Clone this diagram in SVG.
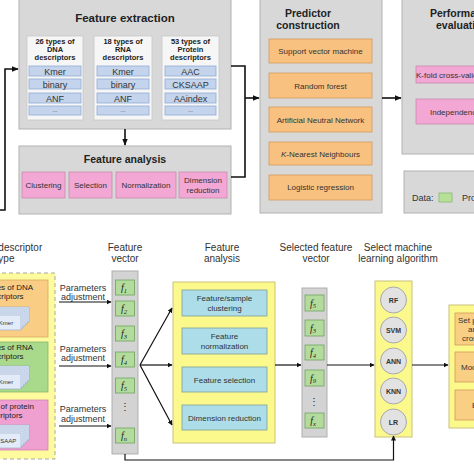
<svg xmlns="http://www.w3.org/2000/svg" width="474" height="474" viewBox="0 0 474 474">
<defs>
<marker id="ah" viewBox="0 0 10 10" refX="9" refY="5" markerWidth="5" markerHeight="5" orient="auto" markerUnits="userSpaceOnUse">
<path d="M0,0 L10,5 L0,10 z" fill="#111"/>
</marker>
<marker id="ahs" viewBox="0 0 10 10" refX="9" refY="5" markerWidth="7" markerHeight="7" orient="auto" markerUnits="userSpaceOnUse">
<path d="M0,1 L10,5 L0,9 z" fill="#111"/>
</marker>
</defs>
<style>
text{font-family:"Liberation Sans",Arial,sans-serif;fill:#333}
.gbox{fill:#d8d8d8;stroke:#b2b2b2;stroke-width:1}
.col{fill:#f6f6f6;stroke:#c8c8c8;stroke-width:0.8}
.blue{fill:#c4d4ec;stroke:#92acd4;stroke-width:0.8}
.pink{fill:#f2a7d4;stroke:#c98bb0;stroke-width:0.8}
.orange{fill:#f9c17f;stroke:#d39b5a;stroke-width:0.8}
.green{fill:#b5e096;stroke:#8cba72;stroke-width:0.8}
.title{font-size:11.5px;font-weight:bold;text-anchor:middle;fill:#222}
.hdr{font-size:7.5px;font-weight:bold;text-anchor:middle;fill:#222}
.it{font-size:9px;text-anchor:middle}
.sm{font-size:8px;text-anchor:middle}
.lbl{font-size:10px;text-anchor:middle;fill:#333}
.plbl{font-size:8px;text-anchor:middle;fill:#222}
.yel{fill:#fbf98c;stroke:#c9c27a;stroke-width:1}
.cyan{fill:#acdde9;stroke:#8aa79a;stroke-width:0.9}
.fcol{fill:#d3d3d3;stroke:#a8a8a8;stroke-width:0.9}
.fbox{fill:#b3dc9c;stroke:#6fa35f;stroke-width:0.8}
.fl{font-family:"Liberation Serif","Times New Roman",serif;font-style:italic;font-size:10px;text-anchor:middle;fill:#222}
.circ{fill:#e2e2e2;stroke:#a8a8a8;stroke-width:1}
.cl{font-size:7px;font-weight:bold;text-anchor:middle;fill:#333}
.card{fill:#e3ebf8;stroke:#8fa6c8;stroke-width:0.6}
.conn{stroke:#111;stroke-width:1.6;fill:none}
.connb{stroke:#111;stroke-width:1.2;fill:none}
</style>

<!-- TOP SECTION -->
<g id="feature-extraction">
<rect class="gbox" x="19" y="-2" width="212" height="131"/>
<text class="title" x="125" y="22">Feature extraction</text>
<g id="dna-col">
<rect class="col" x="27" y="36" width="56" height="84"/>
<text class="hdr" x="55" y="44">26 types of</text>
<text class="hdr" x="55" y="52">DNA</text>
<text class="hdr" x="55" y="60">descriptors</text>
<rect class="blue" x="29" y="66" width="52" height="10"/><text class="it" x="55" y="74.5">Kmer</text>
<rect class="blue" x="29" y="79" width="52" height="10"/><text class="it" x="55" y="87.5">binary</text>
<rect class="blue" x="29" y="93" width="52" height="10"/><text class="it" x="55" y="101.5">ANF</text>
<rect class="blue" x="29" y="106" width="52" height="9"/><text class="it" x="55" y="112" style="font-size:6px">...</text>
</g>
<g id="rna-col">
<rect class="col" x="94" y="36" width="58" height="84"/>
<text class="hdr" x="123" y="44">18 types of</text>
<text class="hdr" x="123" y="52">RNA</text>
<text class="hdr" x="123" y="60">descriptors</text>
<rect class="blue" x="97" y="66" width="52" height="10"/><text class="it" x="123" y="74.5">Kmer</text>
<rect class="blue" x="97" y="79" width="52" height="10"/><text class="it" x="123" y="87.5">binary</text>
<rect class="blue" x="97" y="93" width="52" height="10"/><text class="it" x="123" y="101.5">ANF</text>
<rect class="blue" x="97" y="106" width="52" height="9"/><text class="it" x="123" y="112" style="font-size:6px">...</text>
</g>
<g id="protein-col">
<rect class="col" x="162" y="36" width="57" height="84"/>
<text class="hdr" x="190.5" y="44">53 types of</text>
<text class="hdr" x="190.5" y="52">Protein</text>
<text class="hdr" x="190.5" y="60">descriptors</text>
<rect class="blue" x="165" y="66" width="51" height="10"/><text class="it" x="190.5" y="74.5">AAC</text>
<rect class="blue" x="165" y="79" width="51" height="10"/><text class="it" x="190.5" y="87.5">CKSAAP</text>
<rect class="blue" x="165" y="93" width="51" height="10"/><text class="it" x="190.5" y="101.5">AAindex</text>
<rect class="blue" x="165" y="106" width="51" height="9"/><text class="it" x="190.5" y="112" style="font-size:6px">...</text>
</g>
</g>

<g id="feature-analysis-top">
<rect class="gbox" x="19" y="146" width="212" height="68"/>
<text class="title" x="125" y="163" style="font-size:10.5px">Feature analysis</text>
<rect class="pink" x="22" y="172" width="43" height="26"/><text class="sm" x="43.5" y="188">Clustering</text>
<rect class="pink" x="69" y="172" width="43" height="26"/><text class="sm" x="90.5" y="188">Selection</text>
<rect class="pink" x="116" y="172" width="60" height="26"/><text class="sm" x="146" y="188">Normalization</text>
<rect class="pink" x="179" y="172" width="48" height="26"/><text class="sm" x="203" y="183">Dimension</text><text class="sm" x="203" y="193">reduction</text>
</g>

<g id="predictor-construction">
<rect class="gbox" x="260" y="-2" width="122" height="215"/>
<text class="title" x="308" y="17" style="font-size:10.5px">Predictor</text>
<text class="title" x="308" y="29" style="font-size:10.5px">construction</text>
<rect class="orange" x="269" y="39" width="103" height="24"/><text class="sm" x="320.5" y="54">Support vector machine</text>
<rect class="orange" x="269" y="73" width="103" height="25"/><text class="sm" x="320.5" y="88.5">Random forest</text>
<rect class="orange" x="269" y="107" width="103" height="25"/><text class="sm" x="320.5" y="122.5">Artificial Neutral Network</text>
<rect class="orange" x="269" y="142" width="103" height="23"/><text class="sm" x="320.5" y="156.5"><tspan font-style="italic">K</tspan>-Nearest Neighbours</text>
<rect class="orange" x="269" y="175" width="103" height="25"/><text class="sm" x="320.5" y="190">Logistic regression</text>
</g>

<g id="performance-evaluation">
<rect class="gbox" x="402" y="-2" width="90" height="156"/>
<text class="title" x="462" y="17" style="font-size:10.5px">Performance</text>
<text class="title" x="462" y="29" style="font-size:10.5px">evaluation</text>
<rect class="pink" x="416" y="66" width="80" height="17"/><text class="sm" x="416" y="77.5" style="text-anchor:start">K-fold cross-validation</text>
<rect class="pink" x="416" y="99" width="80" height="25"/><text class="sm" x="430" y="114.5" style="text-anchor:start">Independence test</text>
</g>

<g id="legend">
<rect class="gbox" x="404" y="171" width="90" height="42"/>
<text x="412" y="201" style="font-size:9px">Data:</text>
<rect class="green" x="439" y="193" width="13" height="9"/>
<text x="462" y="201" style="font-size:9px">Process:</text>
</g>

<!-- BOTTOM SECTION -->
<g id="descriptor-type">
<text class="lbl" x="5" y="251">Select descriptor</text>
<text class="lbl" x="5" y="262">type</text>
<rect x="-5" y="273" width="60" height="186" fill="#fdfb9e" stroke="#a8a8a8" stroke-width="1" stroke-dasharray="4,3"/>
<g id="dna-type">
<rect x="-5" y="280" width="53" height="57" fill="#f9cd84" stroke="#d6aa63" stroke-width="0.8"/>
<text class="plbl" x="4" y="290">26 types of DNA</text>
<text class="plbl" x="4" y="299">descriptors</text>
<rect class="card" x="-1" y="307" width="30" height="15"/>
<rect class="card" x="-3" y="309" width="30" height="15"/>
<rect class="card" x="-5" y="311" width="30" height="15"/>
<rect class="card" x="-7" y="313" width="30" height="15"/>
<rect class="card" x="-9" y="315" width="30" height="15"/>
<text x="6" y="325" style="font-size:6px;text-anchor:middle">Kmer</text>
</g>
<g id="rna-type">
<rect x="-5" y="342" width="53" height="50" fill="#a9d98b" stroke="#86b86c" stroke-width="0.8"/>
<text class="plbl" x="4" y="350">18 types of RNA</text>
<text class="plbl" x="4" y="359">descriptors</text>
<rect class="card" x="-1" y="366" width="30" height="15"/>
<rect class="card" x="-3" y="368" width="30" height="15"/>
<rect class="card" x="-5" y="370" width="30" height="15"/>
<rect class="card" x="-7" y="372" width="30" height="15"/>
<rect class="card" x="-9" y="374" width="30" height="15"/>
<text x="6" y="384" style="font-size:6px;text-anchor:middle">Kmer</text>
</g>
<g id="protein-type">
<rect x="-5" y="400" width="53" height="50" fill="#f0a0d0" stroke="#cc86b0" stroke-width="0.8"/>
<text class="plbl" x="1" y="409">53 types of protein</text>
<text class="plbl" x="3" y="418">descriptors</text>
<rect class="card" x="-1" y="425" width="30" height="15"/>
<rect class="card" x="-3" y="427" width="30" height="15"/>
<rect class="card" x="-5" y="429" width="30" height="15"/>
<rect class="card" x="-7" y="431" width="30" height="15"/>
<rect class="card" x="-9" y="433" width="30" height="15"/>
<text x="4" y="443" style="font-size:6px;text-anchor:middle">CKSAAP</text>
</g>
</g>

<g id="param-labels">
<text class="lbl" x="83" y="291" style="font-size:9px">Parameters</text>
<text class="lbl" x="83" y="300" style="font-size:9px">adjustment</text>
<text class="lbl" x="83" y="352" style="font-size:9px">Parameters</text>
<text class="lbl" x="83" y="361" style="font-size:9px">adjustment</text>
<text class="lbl" x="83" y="412" style="font-size:9px">Parameters</text>
<text class="lbl" x="83" y="422" style="font-size:9px">adjustment</text>
</g>

<g id="feature-vector">
<text class="lbl" x="125" y="251">Feature</text>
<text class="lbl" x="125" y="262">vector</text>
<rect class="fcol" x="112" y="271" width="26" height="183"/>
<rect class="fbox" x="115.5" y="280" width="19" height="15"/><text class="fl" x="124" y="291">f<tspan font-size="6.5" dy="1.5">1</tspan></text>
<rect class="fbox" x="115.5" y="301" width="19" height="15"/><text class="fl" x="124" y="312">f<tspan font-size="6.5" dy="1.5">2</tspan></text>
<rect class="fbox" x="115.5" y="326" width="19" height="15"/><text class="fl" x="124" y="337">f<tspan font-size="6.5" dy="1.5">3</tspan></text>
<rect class="fbox" x="115.5" y="352" width="19" height="15"/><text class="fl" x="124" y="363">f<tspan font-size="6.5" dy="1.5">4</tspan></text>
<rect class="fbox" x="115.5" y="378" width="19" height="15"/><text class="fl" x="124" y="389">f<tspan font-size="6.5" dy="1.5">5</tspan></text>
<text x="125" y="410" style="font-size:10px;text-anchor:middle;fill:#222">⋮</text>
<rect class="fbox" x="115.5" y="428" width="19" height="15"/><text class="fl" x="124" y="439">f<tspan font-size="6.5" dy="1.5">n</tspan></text>
</g>

<g id="feature-analysis-bottom">
<text class="lbl" x="222" y="251">Feature</text>
<text class="lbl" x="222" y="262">analysis</text>
<rect class="yel" x="173" y="282" width="102" height="161"/>
<rect class="cyan" x="182" y="290" width="85" height="26"/><text class="sm" x="224.5" y="301">Feature/sample</text><text class="sm" x="224.5" y="311">clustering</text>
<rect class="cyan" x="182" y="328" width="85" height="26"/><text class="sm" x="224.5" y="339">Feature</text><text class="sm" x="224.5" y="349">normalization</text>
<rect class="cyan" x="182" y="367" width="85" height="25"/><text class="sm" x="224.5" y="382.5">Feature selection</text>
<rect class="cyan" x="182" y="405" width="85" height="25"/><text class="sm" x="224.5" y="420.5">Dimension reduction</text>
</g>

<g id="selected-feature-vector">
<text class="lbl" x="316" y="251">Selected feature</text>
<text class="lbl" x="316" y="262">vector</text>
<rect class="fcol" x="302" y="288" width="25" height="149"/>
<rect class="fbox" x="305" y="295" width="19" height="16"/><text class="fl" x="313" y="306.5">f<tspan font-size="6.5" dy="1.5">5</tspan></text>
<rect class="fbox" x="305" y="320" width="19" height="16"/><text class="fl" x="313" y="331.5">f<tspan font-size="6.5" dy="1.5">3</tspan></text>
<rect class="fbox" x="305" y="345" width="19" height="15"/><text class="fl" x="313" y="356">f<tspan font-size="6.5" dy="1.5">4</tspan></text>
<rect class="fbox" x="305" y="370" width="19" height="16"/><text class="fl" x="313" y="381.5">f<tspan font-size="6.5" dy="1.5">9</tspan></text>
<text x="314" y="405" style="font-size:10px;text-anchor:middle;fill:#222">⋮</text>
<rect class="fbox" x="305" y="413" width="19" height="15"/><text class="fl" x="313" y="424">f<tspan font-size="6.5" dy="1.5">x</tspan></text>
</g>

<g id="ml-algorithm">
<text class="lbl" x="398" y="251">Select machine</text>
<text class="lbl" x="398" y="262">learning algorithm</text>
<rect class="yel" x="375" y="281" width="37" height="156"/>
<circle class="circ" cx="393.5" cy="300" r="13"/><text class="cl" x="393.5" y="302.5">RF</text>
<circle class="circ" cx="393.5" cy="330" r="13"/><text class="cl" x="393.5" y="332.5">SVM</text>
<circle class="circ" cx="393.5" cy="361" r="13"/><text class="cl" x="393.5" y="363.5">ANN</text>
<circle class="circ" cx="393.5" cy="391" r="13"/><text class="cl" x="393.5" y="393.5">KNN</text>
<circle class="circ" cx="393.5" cy="422" r="13"/><text class="cl" x="393.5" y="424.5">LR</text>
</g>

<g id="evaluation">
<rect class="yel" x="449" y="305" width="40" height="123"/>
<rect class="orange" x="455" y="313" width="30" height="32" style="fill:#f9cf84"/>
<text x="458" y="323" style="font-size:8px">Set parameters</text>
<text x="468" y="332" style="font-size:8px">and</text>
<text x="462" y="341" style="font-size:8px">cross-validation</text>
<rect class="orange" x="455" y="352" width="30" height="30" style="fill:#f9cf84"/>
<text x="461" y="370" style="font-size:8px">Model training</text>
<rect class="orange" x="455" y="390" width="30" height="30" style="fill:#f9cf84"/>
<text x="472" y="408" style="font-size:8px">Evaluation</text>
</g>

<g id="connectors">
<polyline class="conn" points="0,210 5,210 5,69 18,69" marker-end="url(#ahs)"/>
<line class="conn" x1="125" y1="129" x2="125" y2="145" marker-end="url(#ahs)"/>
<polyline class="conn" points="231,66 245,66 245,177 231,177"/>
<line class="conn" x1="245" y1="98" x2="259" y2="98" marker-end="url(#ahs)"/>
<line class="conn" x1="382" y1="98" x2="401" y2="98" marker-end="url(#ahs)"/>
<line class="connb" x1="59" y1="302" x2="111" y2="302" marker-end="url(#ah)"/>
<line class="connb" x1="59" y1="366" x2="111" y2="366" marker-end="url(#ah)"/>
<line class="connb" x1="59" y1="426" x2="111" y2="426" marker-end="url(#ah)"/>
<line class="connb" x1="140" y1="365" x2="172" y2="308" marker-end="url(#ah)"/>
<line class="connb" x1="140" y1="365" x2="172" y2="365" marker-end="url(#ah)"/>
<line class="connb" x1="140" y1="365" x2="172" y2="425" marker-end="url(#ah)"/>
<line class="connb" x1="275" y1="365" x2="301" y2="365" marker-end="url(#ah)"/>
<line class="connb" x1="327" y1="365" x2="374" y2="365" marker-end="url(#ah)"/>
<line class="connb" x1="412" y1="365" x2="448" y2="365" marker-end="url(#ah)"/>
<polyline class="connb" points="125,454 125,460 393.5,460 393.5,436" marker-end="url(#ah)"/>
</g>
</svg>
